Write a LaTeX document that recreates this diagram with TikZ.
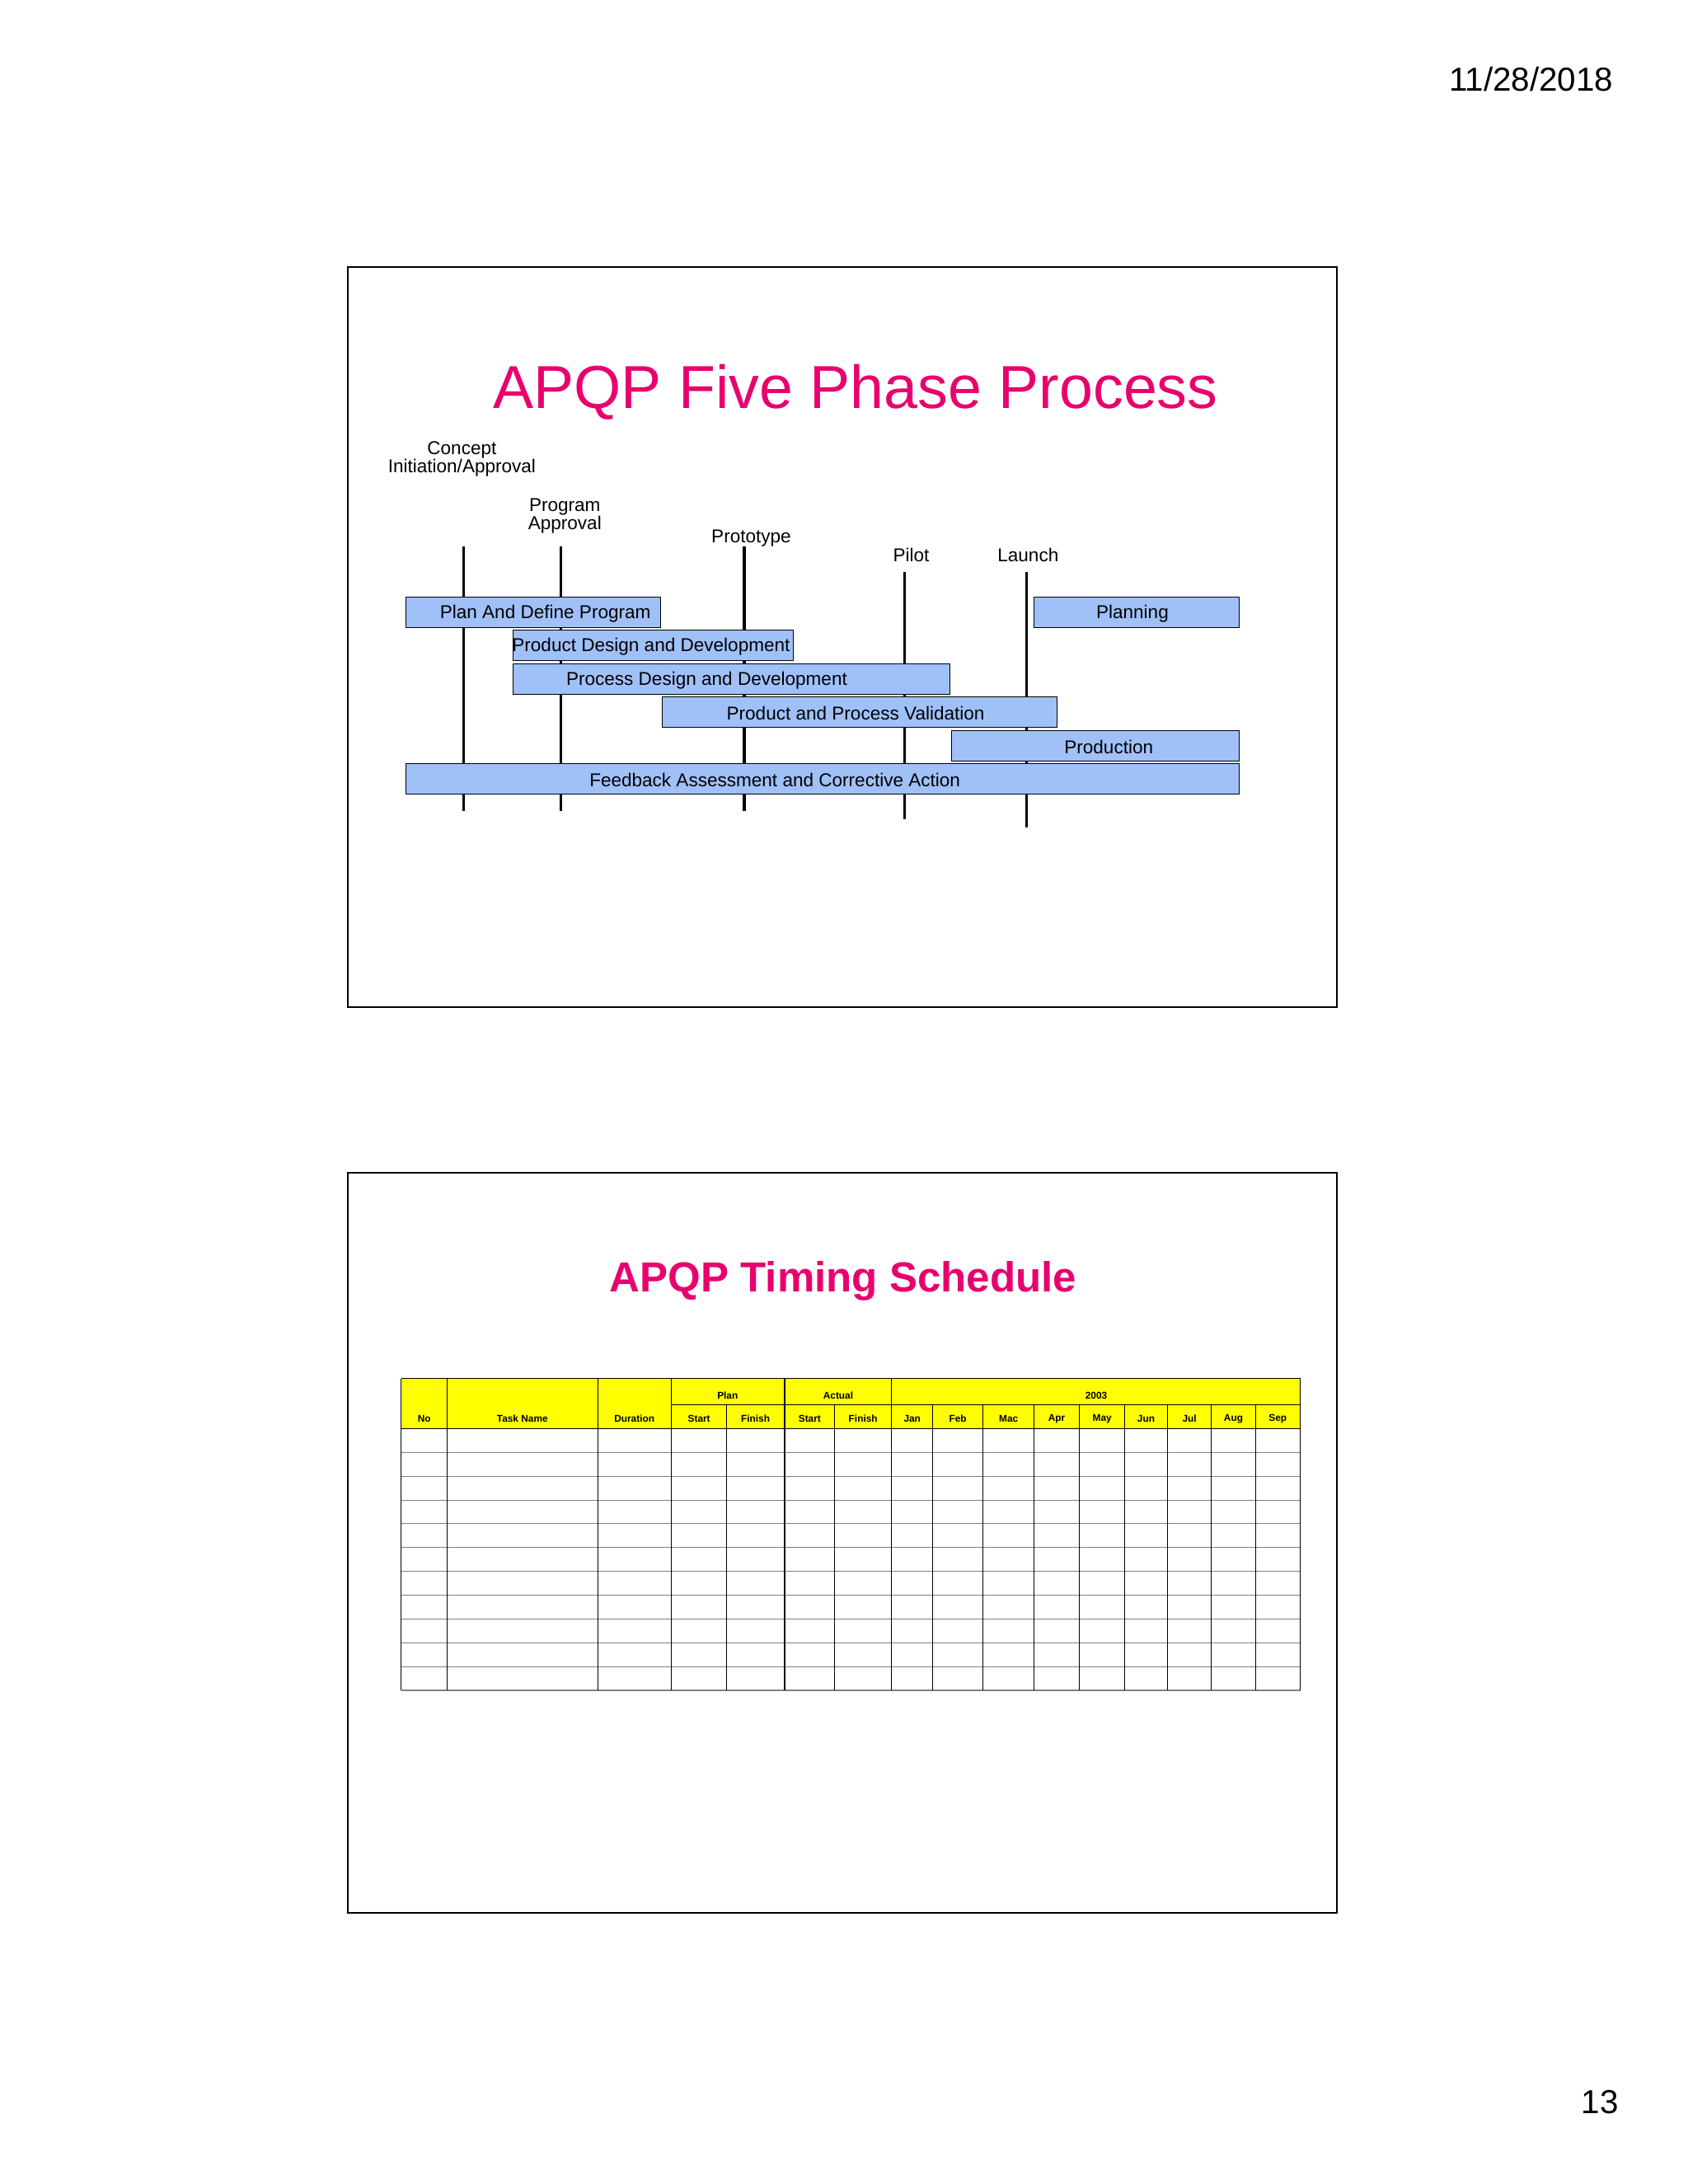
\documentclass[tikz,border=0pt]{standalone}
\usepackage{fontspec}
\setmainfont{Liberation Sans}
\definecolor{apink}{RGB}{232,0,110}
\definecolor{abar}{RGB}{160,192,248}
\definecolor{ayel}{RGB}{255,255,0}
\begin{document}
\begin{tikzpicture}[x=0.5mm,y=-0.5mm,
  frame/.style={draw,line width=1.6pt},
  ms/.style={line width=2.6pt},
  bar/.style={draw,fill=abar,line width=0.9pt},
  bt/.style={font=\fontsize{19}{22}\selectfont,anchor=center},
  lab/.style={font=\fontsize{19}{22}\selectfont,align=center,anchor=center},
  th/.style={font=\bfseries\fontsize{10}{12}\selectfont,anchor=center,inner sep=0pt}]
\useasboundingbox (0,0) rectangle (1213,1570);
\node[font=\fontsize{34}{40}\selectfont,anchor=east] (date) at (1162,57) {11/28/2018};
\node[font=\fontsize{34}{40}\selectfont,anchor=center] (pg) at (1150,1511) {13};
% frames
\draw[frame] (250,192) rectangle (961,724);
\draw[frame] (250,843) rectangle (961,1375);
\node[font=\fontsize{62}{70}\selectfont,text=apink] (t1) at (615,282) {APQP Five Phase Process};
\node[font=\bfseries\fontsize{43}{50}\selectfont,text=apink] (t2) at (606,921) {APQP Timing Schedule};
% labels
\node[lab] (l1) at (332,330) {Concept\\[-4pt]Initiation/Approval};
\node[lab] (l2) at (406,371) {Program\\[-4pt]Approval};
\node[lab] (l3) at (540,387) {Prototype};
\node[lab] (l4) at (655,399) {Pilot};
\node[lab] (l5) at (739,399) {Launch};
% milestone lines
\draw[ms] (333,393) -- (333,583);
\draw[ms] (403,393) -- (403,583);
\draw[ms] (535,393) -- (535,583);
\draw[ms] (650,411) -- (650,589);
\draw[ms] (738,411) -- (738,595);
% bars
\draw[bar] (292,429) rectangle (475,451); \node[bt] (b1) at (392,441) {Plan And Define Program};
\draw[bar] (743,429) rectangle (891,451); \node[bt] (b2) at (814,441) {Planning};
\draw[bar] (369,453) rectangle (570,475); \node[bt] (b3) at (468,465) {Product Design and Development};
\draw[bar] (369,477) rectangle (683,499); \node[bt] (b4) at (508,489) {Process Design and Development};
\draw[bar] (476,501) rectangle (760,523); \node[bt] (b5) at (615,513) {Product and Process Validation};
\draw[bar] (684,525) rectangle (891,547); \node[bt] (b6) at (797,537) {Production};
\draw[bar] (292,549) rectangle (891,571); \node[bt] (b7) at (557,561) {Feedback Assessment and Corrective Action};
% table
\fill[ayel] (288.5,991) rectangle (934.7,1027);
\foreach \y in {1044.1,1061.2,1078.3,1095.4,1112.5,1129.6,1146.7,1163.8,1180.9,1198,1215.1}
  \draw[gray,line width=0.9pt] (288.5,\y) -- (934.7,\y);
\draw[line width=1.2pt] (288.5,991) -- (934.7,991);
\draw[line width=1.2pt] (288.5,1027) -- (934.7,1027);
\draw[line width=0.9pt] (482.6,1010) -- (934.7,1010);
\foreach \x in {288.5,321.3,429.8,482.6,564,641,934.7}
  \draw[line width=0.9pt] (\x,991) -- (\x,1215.1);
\foreach \x in {522.5,599.8,670.4,706.6,743.2,776,808.4,839.2,870.8,902.4}
  \draw[line width=0.9pt] (\x,1010) -- (\x,1215.1);
\node[th] (hp) at (523,1003) {Plan};
\node[th] (ha) at (602.5,1003) {Actual};
\node[th] (hy) at (788,1003) {2003};
\foreach \x/\t in {305/No,375.5/Task Name,456/Duration,502.5/Start,543/Finish,582/Start,620.4/Finish,655.7/Jan,688.5/Feb,725/Mac,759.6/Apr,792.2/May,823.8/Jun,855/Jul,886.6/Aug,918.5/Sep}
  \node[th] at (\x,1020) {\t};
\end{tikzpicture}
\end{document}
